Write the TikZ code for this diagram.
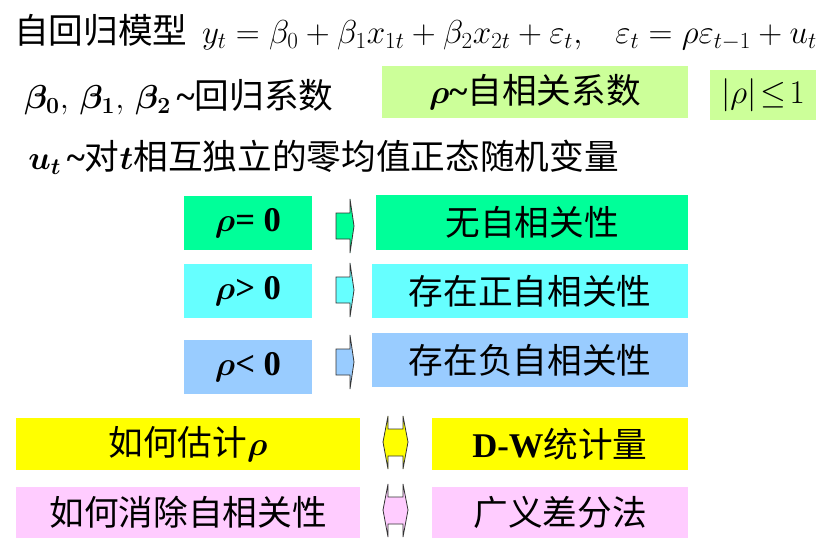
\documentclass[tikz,border=0pt]{standalone}
\usepackage{fontspec}
\usepackage{amsmath,bm}
\setmainfont{Liberation Serif}
\newfontfamily\cjk{Noto Sans CJK SC}
\tikzset{
  txt/.style={font=\fontsize{26}{28}\selectfont,inner sep=0pt},
  arr/.style={draw=black!80,line width=0.6pt}
}
\begin{document}
\begin{tikzpicture}[x=0.75pt,y=-0.75pt]
\useasboundingbox (0,0) rectangle (824,544);
\definecolor{cG}{HTML}{CCFF99}
\definecolor{cA}{HTML}{00FF99}\definecolor{cB}{HTML}{66FFFF}\definecolor{cC}{HTML}{99CCFF}
\definecolor{cD}{HTML}{FFFF00}\definecolor{cE}{HTML}{FFCCFF}
% title
\node[anchor=west,txt] (t1) at (14,32) {{\cjk 自回归模型}\ \,$y_t=\beta_0+\beta_1x_{1t}+\beta_2x_{2t}+\varepsilon_t,\;\;\; \varepsilon_t=\rho\varepsilon_{t-1}+u_t$};
\node[anchor=west,txt] (t2) at (24,97) {$\bm{\beta_0},\,\bm{\beta_1},\,\bm{\beta_2}$\,\textbf{\textasciitilde}{\cjk 回归系数}};
\node[anchor=west,txt] (t3) at (28,157) {$\bm{u_t}$\,\textbf{\textasciitilde}{\cjk 对}$\bm{t}${\cjk 相互独立的零均值正态随机变量}};
% boxes
\fill[cG] (382,66) rectangle (688,118);
\node[txt] (r) at (535,92) {$\bm{\rho}$\textbf{\textasciitilde}{\cjk 自相关系数}};
\fill[cG] (710,70) rectangle (816,120);
\node[txt,font=\fontsize{23}{26}\selectfont] (rr) at (763,95) {$|\rho|\!\le\! 1$};
\fill[cA] (184,196) rectangle (312,250); \node[txt] (a1) at (248,223) {$\bm{\rho}$\textbf{= 0}};
\fill[cA] (376,195) rectangle (688,250); \node[txt] (a2) at (532,222) {\cjk 无自相关性};
\fill[cB] (184,264) rectangle (312,318); \node[txt] (b1) at (248,291) {$\bm{\rho}$\textbf{> 0}};
\fill[cB] (372,264) rectangle (688,318); \node[txt] (b2) at (530,291) {\cjk 存在正自相关性};
\fill[cC] (184,340) rectangle (312,394); \node[txt] (c1) at (248,367) {$\bm{\rho}$\textbf{< 0}};
\fill[cC] (372,333) rectangle (688,387); \node[txt] (c2) at (530,360) {\cjk 存在负自相关性};
\fill[cD] (16,418) rectangle (360,470); \node[txt] (d1) at (188,444) {{\cjk 如何估计}$\bm{\rho}$};
\fill[cD] (432,418) rectangle (688,470); \node[txt] (d2) at (560,444) {\textbf{D-W}{\cjk 统计量}};
\fill[cE] (16,487) rectangle (360,538); \node[txt] (e1) at (188,512) {\cjk 如何消除自相关性};
\fill[cE] (432,487) rectangle (688,538); \node[txt] (e2) at (560,512) {\cjk 广义差分法};
% block arrows
\foreach \y/\c in {199/cA,263/cB,335/cC}{
  \filldraw[arr,fill=\c] (336,\y+14) -- (350,\y+14) -- (350,\y) -- (354,\y+27) -- (350,\y+54) -- (350,\y+40) -- (336,\y+40) -- cycle;}
\foreach \y/\c in {416/cD,484/cE}{
  \filldraw[arr,fill=\c] (388,\y) -- (388,\y+13) -- (403,\y+13) -- (403,\y) -- (408,\y+26) -- (403,\y+53) -- (403,\y+40) -- (388,\y+40) -- (388,\y+53) -- (383,\y+26) -- cycle;}
\end{tikzpicture}
\end{document}
